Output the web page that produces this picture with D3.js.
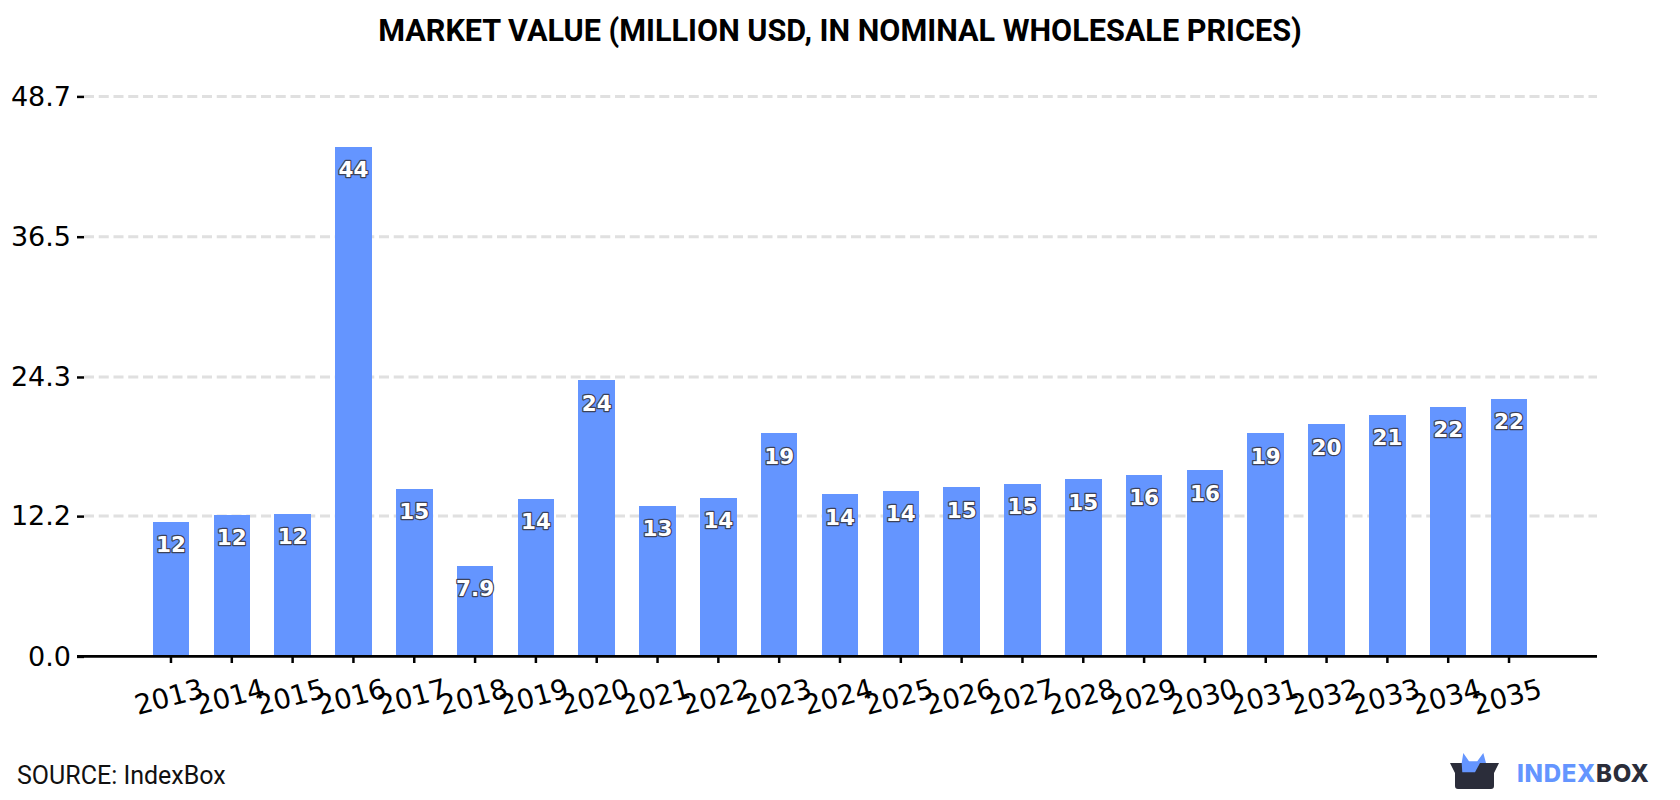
<!DOCTYPE html>
<html>
<head>
<meta charset="utf-8">
<script src="https://cdn.jsdelivr.net/npm/d3@7"></script>
<style>
  html, body { margin: 0; padding: 0; background: #fff; }
  svg { display: block; }
</style>
</head>
<body>
<svg id="chart" width="1680" height="800"></svg>
<script>
const titleText = "MARKET VALUE (MILLION USD, IN NOMINAL WHOLESALE PRICES)";
const sourceText = "SOURCE: IndexBox";
const years = ["2013","2014","2015","2016","2017","2018","2019","2020","2021","2022","2023","2024","2025","2026","2027","2028","2029","2030","2031","2032","2033","2034","2035"];
const marketValue = [11.7,12.3,12.4,44.3,14.6,7.9,13.7,24.0,13.1,13.8,19.4,14.1,14.4,14.7,15.0,15.4,15.8,16.2,19.4,20.2,21.0,21.7,22.4];
const yTicks = [0, 12.2, 24.3, 36.5, 48.7];

const svg = d3.select("#chart");
const barColor = "#6495ff";
const inkColor = "#2b2d3a";

const x = d3.scaleBand().domain(years).range([84, 1596]).paddingInner(0.4).paddingOuter(1.13);
const y = d3.scaleLinear().domain([0, 48.7]).range([656.4, 96.4]);

svg.append("text")
  .attr("x", 840).attr("y", 41)
  .attr("text-anchor", "middle")
  .attr("font-family", "Roboto").attr("font-weight", 700).attr("font-size", 30.6)
  .attr("fill", "#000")
  .text(titleText);

// dashed horizontal grid, skipping the baseline
svg.append("g").selectAll("line")
  .data(yTicks.filter(d => d > 0))
  .join("line")
  .attr("x1", 84).attr("x2", 1597)
  .attr("y1", d => y(d)).attr("y2", d => y(d))
  .attr("stroke", "#e0e0e0").attr("stroke-width", 3).attr("stroke-dasharray", "10 4.75");

svg.append("g").selectAll("rect")
  .data(years.map((year, i) => ({ year, value: marketValue[i] })))
  .join("rect")
  .attr("x", d => x(d.year))
  .attr("y", d => y(d.value))
  .attr("width", x.bandwidth())
  .attr("height", d => y(0) - y(d.value))
  .attr("fill", barColor)
  .attr("shape-rendering", "crispEdges");

const yAxis = svg.append("g")
  .attr("transform", "translate(84,0)")
  .call(d3.axisLeft(y).tickValues(yTicks).tickFormat(d3.format(".1f")).tickSize(7).tickPadding(6));
yAxis.select(".domain").remove();
yAxis.selectAll("line").attr("stroke", "#000").attr("stroke-width", 2.5);
yAxis.selectAll("text").attr("font-family", "DejaVu Sans").attr("font-size", 27).attr("fill", "#000");

const xAxis = svg.append("g")
  .attr("transform", "translate(0,656)")
  .call(d3.axisBottom(x).tickSize(7).tickSizeOuter(0).tickPadding(0));
xAxis.select(".domain").remove();
xAxis.selectAll("line").attr("stroke", "#000").attr("stroke-width", 2.5);
xAxis.selectAll("text")
  .attr("font-family", "DejaVu Sans").attr("font-size", 27.5).attr("fill", "#000")
  .attr("text-anchor", "middle")
  .attr("dy", null)
  .attr("y", null)
  .attr("transform", () => "translate(0.5,50) rotate(-15)");

// baseline drawn over the bars and ticks
svg.append("line")
  .attr("x1", 77).attr("x2", 1597)
  .attr("y1", y(0)).attr("y2", y(0))
  .attr("stroke", "#000").attr("stroke-width", 2.8);

const valueLabel = v => v < 10 ? d3.format(".1f")(v) : d3.format(".0f")(v);
svg.append("g").selectAll("text")
  .data(years.map((year, i) => ({ year, value: marketValue[i] })))
  .join("text")
  .attr("x", d => x(d.year) + x.bandwidth() / 2)
  .attr("y", d => y(d.value) + 30.5)
  .attr("text-anchor", "middle")
  .attr("font-family", "DejaVu Sans").attr("font-weight", 700).attr("font-size", 21.5)
  .attr("fill", "#fff")
  .attr("stroke", "#3d4258").attr("stroke-width", 2.4)
  .attr("paint-order", "stroke")
  .attr("stroke-linejoin", "round")
  .text(d => valueLabel(d.value));

svg.append("text")
  .attr("x", 17).attr("y", 784)
  .attr("font-family", "Roboto").attr("font-size", 25).attr("fill", "#111")
  .text(sourceText);

// brand mark and wordmark
const brand = svg.append("g").attr("transform", "translate(1450,753)");
brand.append("path").attr("fill", barColor)
  .attr("d", "M11.7,10 L13.3,0 L19,8.3 L27.3,8.3 L33.3,0 L36,10 Z");
brand.append("path").attr("fill", inkColor)
  .attr("d", "M0,10 L49,10 L44,20 L44,33 Q44,36 41,36 L8,36 Q5,36 5,33 L5,20 Z");
brand.append("path").attr("fill", barColor)
  .attr("d", "M11.7,10 L30,10 L25,19.3 L12.3,19.3 Z");
const word = svg.append("text")
  .attr("x", 1517).attr("y", 782)
  .attr("font-family", "Inter").attr("font-weight", 800).attr("font-size", 24).attr("letter-spacing", 0.7);
word.append("tspan").attr("fill", barColor).text("INDEX");
word.append("tspan").attr("fill", inkColor).text("BOX");
</script>
</body>
</html>
